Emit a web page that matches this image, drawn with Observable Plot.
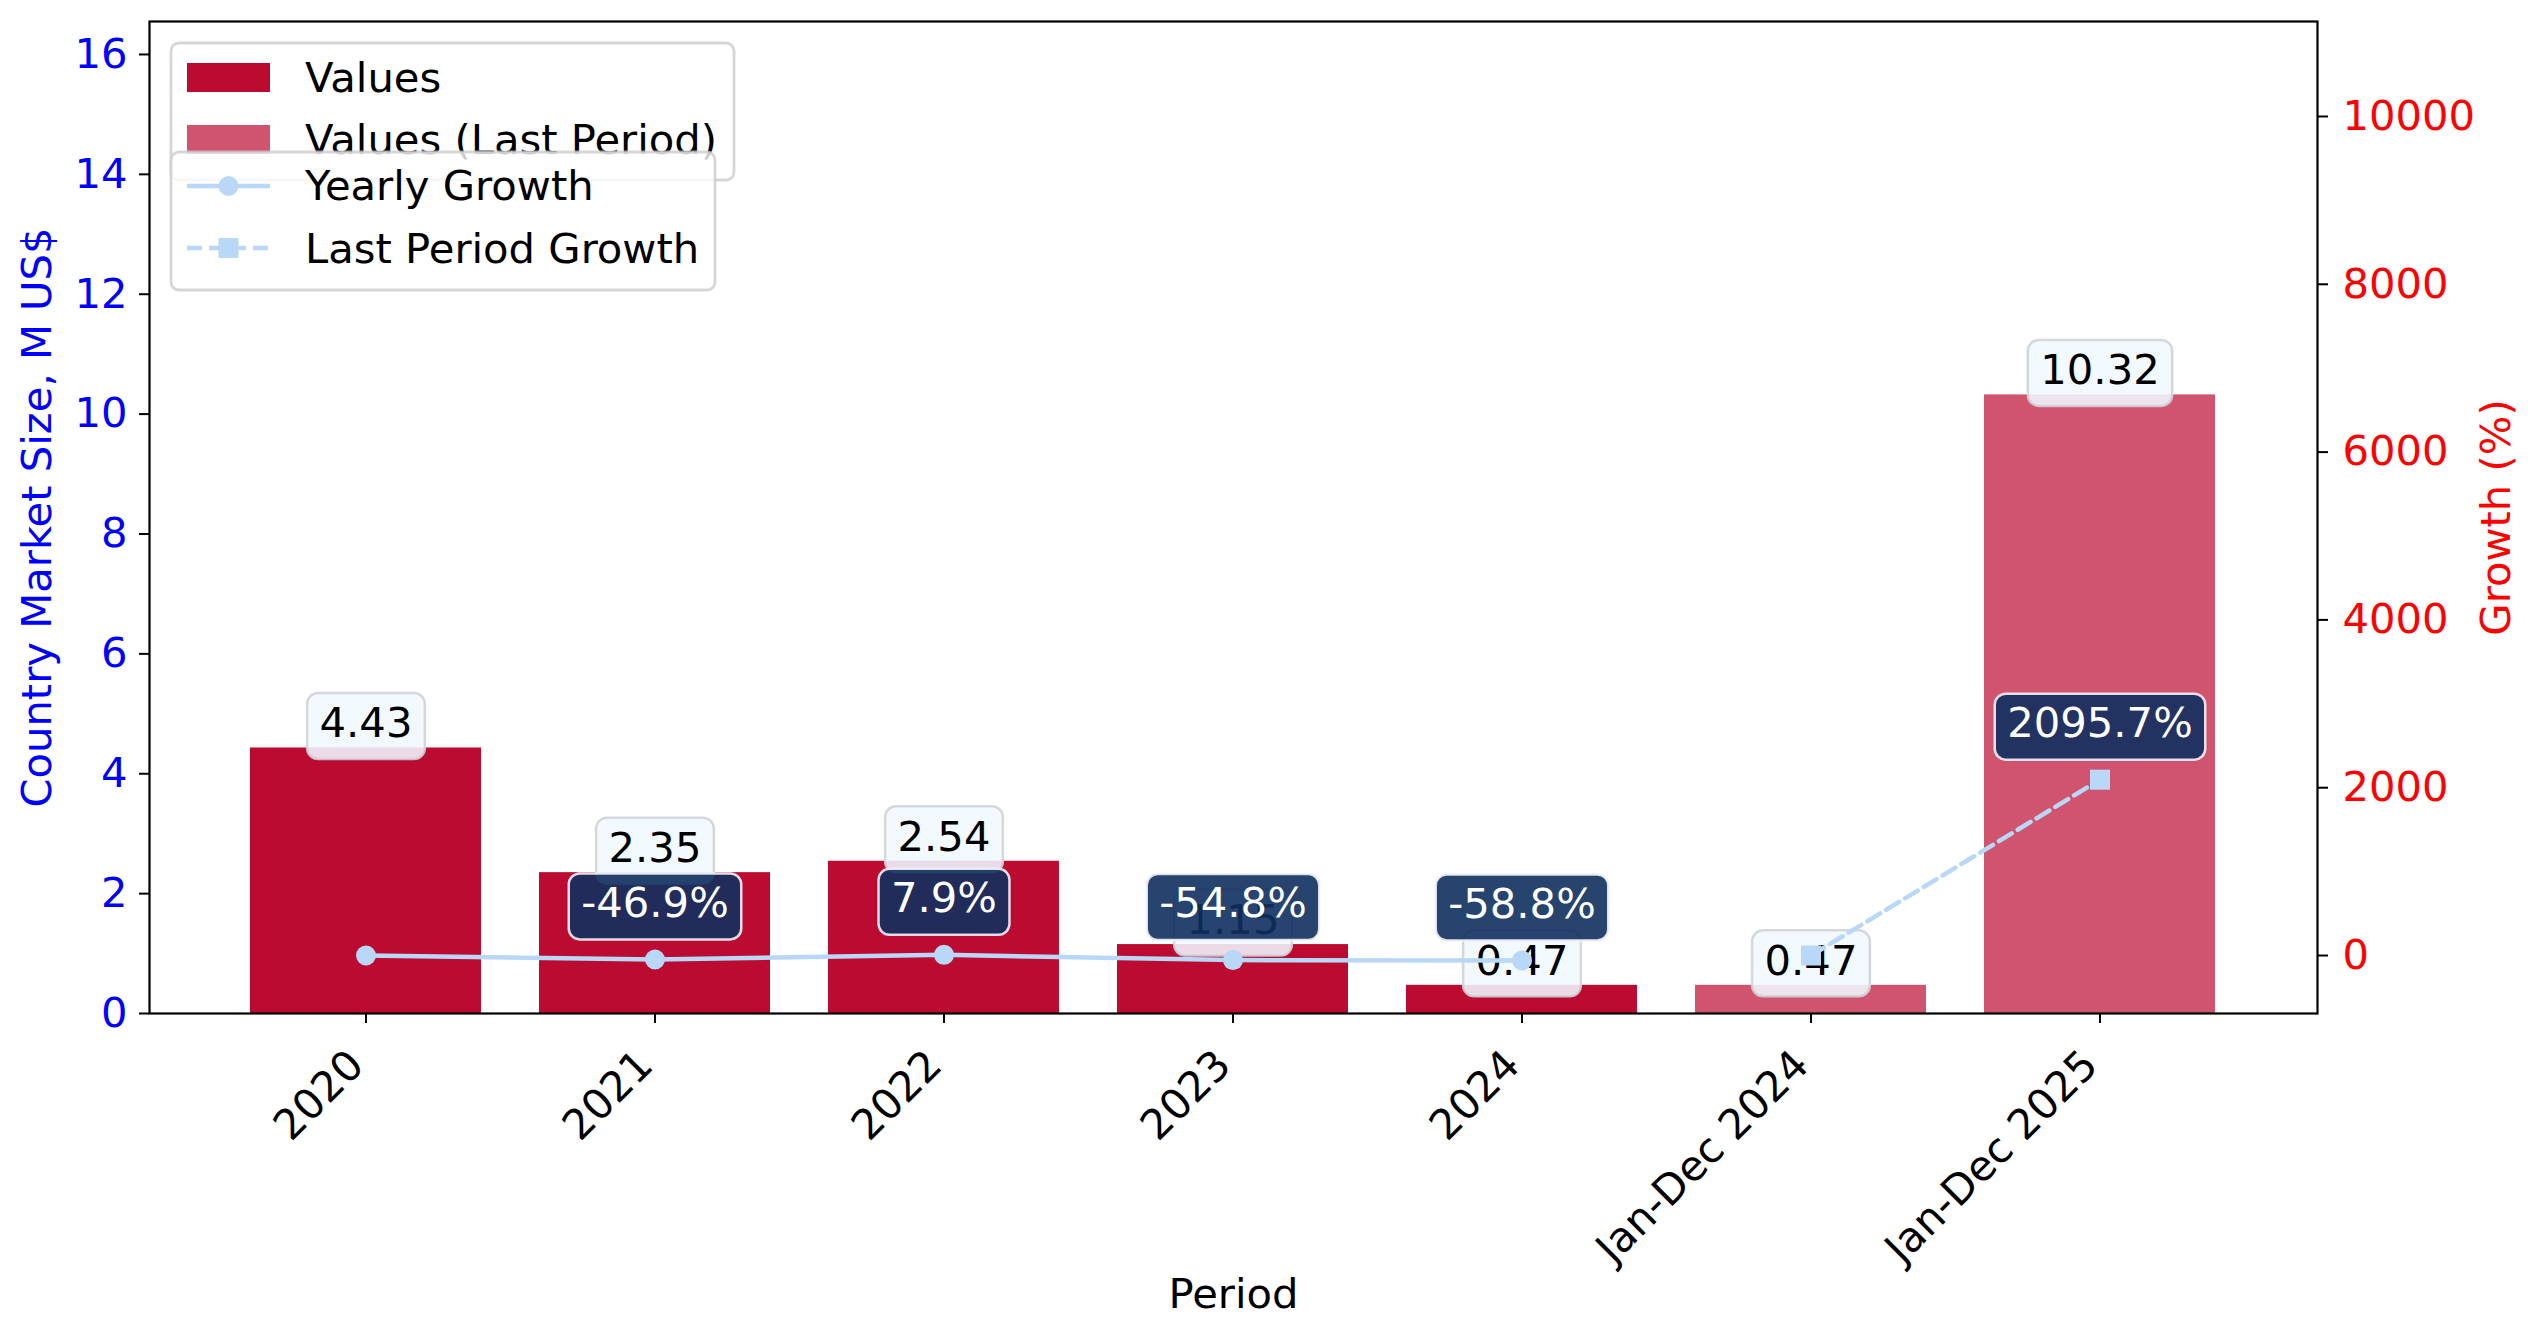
<!DOCTYPE html>
<html>
<head>
<meta charset="utf-8">
<script src="https://cdn.jsdelivr.net/npm/d3@7"></script>
<script src="https://cdn.jsdelivr.net/npm/@observablehq/plot@0.6"></script>
<style>
  html, body { margin: 0; padding: 0; background: #ffffff; }
  #chart svg { display: block; }
</style>
</head>
<body>
<div id="chart"></div>
<script>
// ---------- data ----------
const categories = ["2020", "2021", "2022", "2023", "2024", "Jan-Dec 2024", "Jan-Dec 2025"];
const values = [4.43, 2.35, 2.54, 1.15, 0.47, 0.47, 10.32];
const isLastPeriod = [false, false, false, false, false, true, true];

const yearlyCategories = ["2020", "2021", "2022", "2023", "2024"];
const yearlyGrowth = [0, -46.9, 7.9, -54.8, -58.8];
const yearlyHasLabel = [false, true, true, true, true];

const lastCategories = ["Jan-Dec 2024", "Jan-Dec 2025"];
const lastGrowth = [0, 2095.7];
const lastHasLabel = [false, true];

const leftTicks = [0, 2, 4, 6, 8, 10, 12, 14, 16];
const rightTicks = [0, 2000, 4000, 6000, 8000, 10000];

const seriesNames = ["Values", "Values (Last Period)", "Yearly Growth", "Last Period Growth"];
const axisTitles = {left: "Country Market Size, M US$", right: "Growth (%)", bottom: "Period"};

// ---------- styling ----------
const FONT = "DejaVu Sans";
const FS = 41.7;
const BAR = "#BC0B31";
const LINE = "#B9D7F7";
const NAVY = "#10305F";
const W = 2544, H = 1338;
const M = {left: 149, right: 227, top: 21, bottom: 325};

const yMax = 16.55;                 // left axis domain [0, yMax]
const gMin = -691, gMax = 11132;    // right axis domain
const toY = g => (g - gMin) / (gMax - gMin) * yMax;
const fromY = y => y / yMax * (gMax - gMin) + gMin;

// ---------- tables ----------
const bars = categories.map((c, i) => ({cat: c, value: values[i], last: isLastPeriod[i]}));
const yearly = yearlyCategories.map((c, i) => ({cat: c, g: yearlyGrowth[i], lab: yearlyHasLabel[i]}));
const lastP = lastCategories.map((c, i) => ({cat: c, g: lastGrowth[i], lab: lastHasLabel[i]}));
const growthLabels = [...yearly, ...lastP].filter(d => d.lab);

const plot = Plot.plot({
  width: W,
  height: H,
  marginLeft: M.left,
  marginRight: M.right,
  marginTop: M.top,
  marginBottom: M.bottom,
  style: {fontFamily: FONT, fontSize: FS + "px", background: "#ffffff", color: "black"},
  x: {type: "band", domain: categories, paddingInner: 0.2, paddingOuter: 0.34, label: null},
  y: {domain: [0, yMax], label: null},
  marks: [
    Plot.barY(bars.filter(d => !d.last), {x: "cat", y: "value", fill: BAR}),
    Plot.barY(bars.filter(d => d.last), {x: "cat", y: "value", fill: BAR, fillOpacity: 0.7}),
    // value labels
    Plot.text(bars, {
      x: "cat", y: "value", text: d => d3.format(".2f")(d.value),
      dy: -24, fill: "black", fontSize: FS, textAnchor: "middle", lineAnchor: "middle",
      ariaDescription: "vlabels"
    }),
    // yearly growth
    Plot.line(yearly, {x: "cat", y: d => toY(d.g), stroke: LINE, strokeWidth: 4.5}),
    Plot.dot(yearly, {x: "cat", y: d => toY(d.g), r: 10, fill: LINE, stroke: null}),
    // last period growth
    Plot.line(lastP, {x: "cat", y: d => toY(d.g), stroke: LINE, strokeWidth: 4.5, strokeDasharray: "15,7"}),
    Plot.dot(lastP, {x: "cat", y: d => toY(d.g), r: 11.3, symbol: "square", fill: LINE, stroke: null}),
    // growth labels
    Plot.text(growthLabels, {
      x: "cat", y: d => toY(d.g), text: d => d.g.toFixed(1) + "%",
      dy: -56, fill: "white", fontSize: FS, textAnchor: "middle", lineAnchor: "middle",
      ariaDescription: "glabels"
    }),
    // axes
    Plot.axisY({anchor: "left", ticks: leftTicks, tickSize: 10, tickPadding: 12,
      fill: "blue", stroke: "black", strokeWidth: 2, fontSize: FS, label: null}),
    Plot.axisY({anchor: "right", ticks: rightTicks.map(toY), tickFormat: d => String(Math.round(fromY(d))),
      tickSize: 10, tickPadding: 15, fill: "red", stroke: "black", strokeWidth: 2, fontSize: FS, label: null}),
    Plot.axisX({tickSize: 10, tickFormat: () => "", stroke: "black", strokeWidth: 2, label: null}),
    Plot.text(categories, {x: d => d, frameAnchor: "bottom", rotate: -45, textAnchor: "end", lineAnchor: "top",
      dx: -21, dy: 33, fill: "black", fontSize: FS}),
    Plot.frame({stroke: "black", strokeWidth: 2.2}),
    // axis titles
    Plot.text([axisTitles.left], {frameAnchor: "left", dx: -111.5, rotate: -90, fill: "blue",
      fontSize: FS, textAnchor: "middle", lineAnchor: "middle"}),
    Plot.text([axisTitles.right], {frameAnchor: "right", dx: 179, rotate: -90, fill: "red",
      fontSize: FS, textAnchor: "middle", lineAnchor: "middle"}),
    Plot.text([axisTitles.bottom], {frameAnchor: "bottom", dy: 281, fill: "black",
      fontSize: FS, textAnchor: "middle", lineAnchor: "middle"})
  ]
});

document.getElementById("chart").appendChild(plot);

// ---------- label boxes ----------
const NS = "http://www.w3.org/2000/svg";
function addBoxes(desc, o) {
  plot.querySelectorAll(`g[aria-description="${desc}"] text`).forEach(t => {
    const w = t.getComputedTextLength();
    const r = document.createElementNS(NS, "rect");
    r.setAttribute("x", -w / 2 - o.padX);
    r.setAttribute("y", o.cy - o.h / 2);
    r.setAttribute("width", w + 2 * o.padX);
    r.setAttribute("height", o.h);
    r.setAttribute("rx", o.rx);
    r.setAttribute("ry", o.rx);
    r.setAttribute("fill", o.fill);
    r.setAttribute("fill-opacity", o.opacity);
    r.setAttribute("stroke", o.stroke);
    r.setAttribute("stroke-opacity", o.opacity);
    r.setAttribute("stroke-width", o.strokeWidth);
    const tr = t.getAttribute("transform");
    if (tr) r.setAttribute("transform", tr);
    t.parentNode.insertBefore(r, t);
  });
}
addBoxes("vlabels", {padX: 12.5, h: 66, cy: 2, rx: 11, fill: "#F0F8FF", opacity: 0.88, stroke: "#cfd3d8", strokeWidth: 2.5});
addBoxes("glabels", {padX: 12.5, h: 66, cy: 3, rx: 11, fill: NAVY, opacity: 0.9, stroke: "#f2f2f8", strokeWidth: 2.5});

// ---------- legends ----------
const svg = d3.select(plot);
const lg = svg.append("g")
  .attr("font-family", FONT).attr("font-size", FS)
  .attr("fill", "black").attr("text-anchor", "start")
  .style("text-anchor", "start");

function frameBox(x, y, w, h) {
  lg.append("rect").attr("x", x).attr("y", y).attr("width", w).attr("height", h)
    .attr("rx", 8).attr("fill", "white").attr("fill-opacity", 0.8)
    .attr("stroke", "#cccccc").attr("stroke-opacity", 0.8).attr("stroke-width", 2.8);
}
function label(x, y, s) {
  lg.append("text").attr("x", x).attr("y", y).attr("text-anchor", "start")
    .style("text-anchor", "start").attr("fill", "black").text(s);
}
// legend 1 (bars)
frameBox(171, 43, 563, 137);
lg.append("rect").attr("x", 187).attr("y", 63).attr("width", 83).attr("height", 29).attr("fill", BAR);
label(305, 92, seriesNames[0]);
lg.append("rect").attr("x", 187).attr("y", 125).attr("width", 83).attr("height", 29).attr("fill", BAR).attr("fill-opacity", 0.7);
label(305, 154, seriesNames[1]);
// legend 2 (lines)
frameBox(171, 152, 544, 138);
lg.append("line").attr("x1", 187).attr("x2", 270).attr("y1", 186).attr("y2", 186).attr("stroke", LINE).attr("stroke-width", 4.5);
lg.append("circle").attr("cx", 228.5).attr("cy", 186).attr("r", 10).attr("fill", LINE);
label(305, 200, seriesNames[2]);
lg.append("line").attr("x1", 187).attr("x2", 270).attr("y1", 248).attr("y2", 248).attr("stroke", LINE).attr("stroke-width", 4.5).attr("stroke-dasharray", "15,7");
lg.append("rect").attr("x", 218.5).attr("y", 238).attr("width", 20).attr("height", 20).attr("fill", LINE);
label(305, 263, seriesNames[3]);
</script>
</body>
</html>
